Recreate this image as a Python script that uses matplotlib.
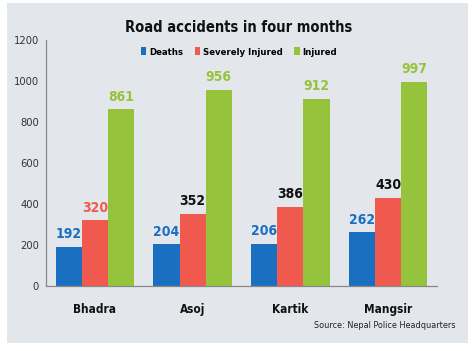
"""Road accidents in four months - grouped bar chart."""

import matplotlib.pyplot as plt
from matplotlib.patches import Rectangle
import numpy as np

# Data
months = ['Bhadra', 'Asoj', 'Kartik', 'Mangsir']
series_names = ['Deaths', 'Severely Injured', 'Injured']
deaths = [192, 204, 206, 262]
severely_injured = [320, 352, 386, 430]
injured = [861, 956, 912, 997]
y_ticks = [0, 200, 400, 600, 800, 1000, 1200]

# Style
BAR_COLORS = ['#1a6fc0', '#f05a4e', '#95c43c']
LABEL_COLORS = [['#1a6fc0'] * 4,
                ['#f05a4e', '#111111', '#111111', '#111111'],
                ['#95c43c'] * 4]
PANEL = '#e3e7ec'

plt.rcParams['font.family'] = ['DejaVu Sans']
plt.rcParams['font.stretch'] = 'condensed'

fig = plt.figure(figsize=(4.74, 3.51), dpi=100)
fig.patch.set_facecolor('white')
fig.patches.append(Rectangle((7 / 474, 8 / 351), 461 / 474, 340 / 351,
                             transform=fig.transFigure, facecolor=PANEL,
                             edgecolor='none', zorder=-10))

ax = fig.add_axes([46 / 474, 65 / 351, 391 / 474, 246 / 351])
ax.set_facecolor('none')

x = np.arange(len(months))
width = 0.268
all_values = [deaths, severely_injured, injured]

for i, (name, vals) in enumerate(zip(series_names, all_values)):
    pos = x + (i - 1) * width
    ax.bar(pos, vals, width=width, color=BAR_COLORS[i], label=name, zorder=2)
    for j, (p, v) in enumerate(zip(pos, vals)):
        ax.annotate(f'{v}', (p, v), xytext=(0, 4), textcoords='offset points',
                    ha='center', va='bottom', fontsize=10, fontweight='bold',
                    color=LABEL_COLORS[i][j])

ax.set_xlim(-0.5, 3.5)
ax.set_ylim(0, 1200)
ax.set_yticks(y_ticks)
ax.set_yticklabels([str(t) for t in y_ticks], fontsize=8, color='#333333')
ax.set_xticks(x)
ax.set_xticklabels(months, fontsize=8.5, fontweight='bold', color='#111111')
ax.tick_params(axis='both', length=0)
ax.tick_params(axis='x', pad=12)
ax.tick_params(axis='y', pad=5)

for side in ['top', 'right']:
    ax.spines[side].set_visible(False)
for side in ['left', 'bottom']:
    ax.spines[side].set_color('#888888')
    ax.spines[side].set_linewidth(0.9)

fig.text(239 / 474, 1 - 27 / 351, 'Road accidents in four months',
         ha='center', va='center', fontsize=10.5, fontweight='bold',
         color='#111111')

leg = ax.legend(loc='center', bbox_to_anchor=(239 / 474, 1 - 52 / 351),
                bbox_transform=fig.transFigure, ncol=3, frameon=False,
                handlelength=0.6, handleheight=0.9, handletextpad=0.3,
                columnspacing=1.2, prop={'size': 6.8, 'weight': 'bold',
                                         'stretch': 'condensed'})

fig.text(456 / 474, 1 - 326 / 351, 'Source: Nepal Police Headquarters',
         ha='right', va='center', fontsize=6.5, color='#222222')

plt.savefig('out.png', dpi=100)
plt.close()
